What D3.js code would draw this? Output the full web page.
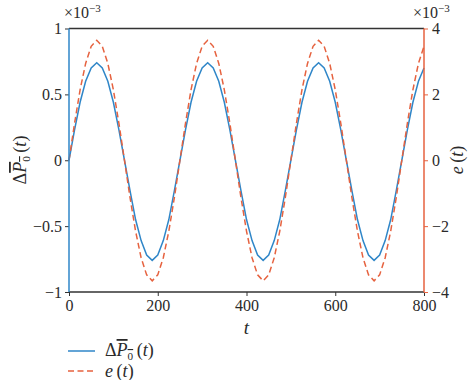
<!DOCTYPE html>
<html>
<head>
<meta charset="utf-8">
<script src="https://cdn.jsdelivr.net/npm/d3@7"></script>
</head>
<body style="margin:0;background:#fff">
<svg id="fig" width="474" height="380"></svg>
<script>
// time samples (step 12.5)
var tValues = d3.range(0, 800.1, 12.5);
// ΔP0(t), units of 1e-3 (left axis)
var dP0 = [
  0, 0.23, 0.44, 0.60, 0.70, 0.74, 0.70, 0.60, 0.44, 0.23,
  0, -0.23, -0.45, -0.61, -0.72, -0.76, -0.72, -0.61, -0.45, -0.23,
  0, 0.23, 0.44, 0.60, 0.70, 0.74, 0.70, 0.60, 0.44, 0.23,
  0, -0.23, -0.45, -0.61, -0.72, -0.76, -0.72, -0.61, -0.45, -0.23,
  0, 0.23, 0.44, 0.60, 0.70, 0.74, 0.70, 0.60, 0.44, 0.23,
  0, -0.23, -0.45, -0.61, -0.72, -0.76, -0.72, -0.61, -0.45, -0.23,
  0, 0.23, 0.44, 0.60, 0.70
];
// e(t), units of 1e-3 (right axis)
var eVals = [
  0, 1.12, 2.14, 2.94, 3.46, 3.64, 3.46, 2.94, 2.14, 1.12,
  0, -1.13, -2.15, -2.96, -3.48, -3.66, -3.48, -2.96, -2.15, -1.13,
  0, 1.12, 2.14, 2.94, 3.46, 3.64, 3.46, 2.94, 2.14, 1.12,
  0, -1.13, -2.15, -2.96, -3.48, -3.66, -3.48, -2.96, -2.15, -1.13,
  0, 1.12, 2.14, 2.94, 3.46, 3.64, 3.46, 2.94, 2.14, 1.12,
  0, -1.13, -2.15, -2.96, -3.48, -3.66, -3.48, -2.96, -2.15, -1.13,
  0, 1.12, 2.14, 2.94, 3.46
];
var xTicks = [0, 200, 400, 600, 800];
var leftTicks = [-1, -0.5, 0, 0.5, 1];
var rightTicks = [-4, -2, 0, 2, 4];

var blue = "#2f86c8", red = "#e6623f", dark = "#333", ink = "#2a2a2a";
var margin = { top: 28.5, right: 50, bottom: 88, left: 69 },
  width = 424 - margin.left,
  height = 292 - margin.top;

var svg = d3.select("#fig");
var g = svg.append("g").attr("transform", "translate(" + margin.left + "," + margin.top + ")");

var x = d3.scaleLinear().domain([0, 800]).range([0, width]);
var yL = d3.scaleLinear().domain([-1, 1]).range([height, 0]);
var yR = d3.scaleLinear().domain([-4, 4]).range([height, 0]);

var fmtL = function (d) { return d < 0 ? "\u2212" + Math.abs(d) : String(d); };

function styleAxis(sel, color) {
  sel.select(".domain").remove();
  sel.selectAll(".tick line").attr("stroke", color);
  sel.selectAll(".tick text").attr("fill", ink).attr("font-size", 16);
}

// axes
var xa = g.append("g").attr("transform", "translate(0," + height + ")")
  .call(d3.axisBottom(x).tickValues(xTicks).tickSize(4).tickPadding(4));
styleAxis(xa, dark);
var la = g.append("g").call(d3.axisLeft(yL).tickValues(leftTicks).tickSize(4).tickPadding(3).tickFormat(fmtL));
styleAxis(la, dark);
var ra = g.append("g").attr("transform", "translate(" + width + ",0)")
  .call(d3.axisRight(yR).tickValues(rightTicks).tickSize(4).tickPadding(4).tickFormat(fmtL));
styleAxis(ra, red);

// lines
var lineL = d3.line().x(function (d, i) { return x(tValues[i]); }).y(function (d) { return yL(d); });
var lineR = d3.line().x(function (d, i) { return x(tValues[i]); }).y(function (d) { return yR(d); });

g.append("path").attr("d", lineL(dP0)).attr("fill", "none").attr("stroke", blue).attr("stroke-width", 1.5);
g.append("path").attr("d", lineR(eVals)).attr("fill", "none").attr("stroke", red)
  .attr("stroke-width", 1.5).attr("stroke-dasharray", "6,3.5");

// spines
g.append("line").attr("x1", 0).attr("x2", width).attr("y1", 0).attr("y2", 0).attr("stroke", dark).attr("stroke-width", 1.3);
g.append("line").attr("x1", 0).attr("x2", width).attr("y1", height).attr("y2", height).attr("stroke", dark).attr("stroke-width", 1.3);
g.append("line").attr("x1", 0).attr("x2", 0).attr("y1", 0).attr("y2", height).attr("stroke", blue).attr("stroke-width", 1.5);
g.append("line").attr("x1", width).attr("x2", width).attr("y1", 0).attr("y2", height).attr("stroke", red).attr("stroke-width", 1.5);

// exponent labels
function expLabel(xp, yp) {
  var t = svg.append("text").attr("x", xp).attr("y", yp).attr("font-size", 16).attr("fill", ink);
  t.append("tspan").text("\u00d710");
  t.append("tspan").attr("dy", -6).attr("font-size", 11).text("\u22123");
}
expLabel(64, 18);
expLabel(413, 18);

// axis titles
svg.append("text").attr("x", x(400) + margin.left).attr("y", 334).attr("text-anchor", "middle")
  .attr("font-size", 19).attr("font-style", "italic").attr("fill", ink).text("t");

function dpLabel(sel, size) {
  sel.append("tspan").text("\u0394");
  sel.append("tspan").attr("font-style", "italic").attr("text-decoration", "overline").text("P");
  sel.append("tspan").attr("dy", 4).attr("font-size", size * 0.62).attr("text-decoration", "overline").text("0");
  sel.append("tspan").attr("dy", -4).text("\u2009(");
  sel.append("tspan").attr("font-style", "italic").text("t");
  sel.append("tspan").text(")");
}
var yl = svg.append("text").attr("transform", "translate(26,160) rotate(-90)").attr("text-anchor", "middle")
  .attr("font-size", 18).attr("fill", ink);
dpLabel(yl, 18);

var yr = svg.append("text").attr("transform", "translate(463,160) rotate(-90)").attr("text-anchor", "middle")
  .attr("font-size", 18).attr("fill", ink);
yr.append("tspan").attr("font-style", "italic").text("e");
yr.append("tspan").text("\u2009(");
yr.append("tspan").attr("font-style", "italic").text("t");
yr.append("tspan").text(")");

// legend
var leg = svg.append("g").attr("transform", "translate(68,351)");
leg.append("line").attr("x1", 0).attr("x2", 27).attr("y1", 0).attr("y2", 0).attr("stroke", blue).attr("stroke-width", 1.5);
var l1 = leg.append("text").attr("x", 37).attr("y", 5).attr("font-size", 18).attr("fill", ink);
dpLabel(l1, 18);
leg.append("line").attr("x1", 0).attr("x2", 27).attr("y1", 20).attr("y2", 20).attr("stroke", red)
  .attr("stroke-width", 1.5).attr("stroke-dasharray", "6,3.5");
var l2 = leg.append("text").attr("x", 37).attr("y", 26).attr("font-size", 18).attr("fill", ink);
l2.append("tspan").attr("font-style", "italic").text("e");
l2.append("tspan").text("\u2009(");
l2.append("tspan").attr("font-style", "italic").text("t");
l2.append("tspan").text(")");

// serif everywhere
svg.selectAll("text, tspan").style("font-family", "Liberation Serif", "important");
</script>
</body>
</html>
